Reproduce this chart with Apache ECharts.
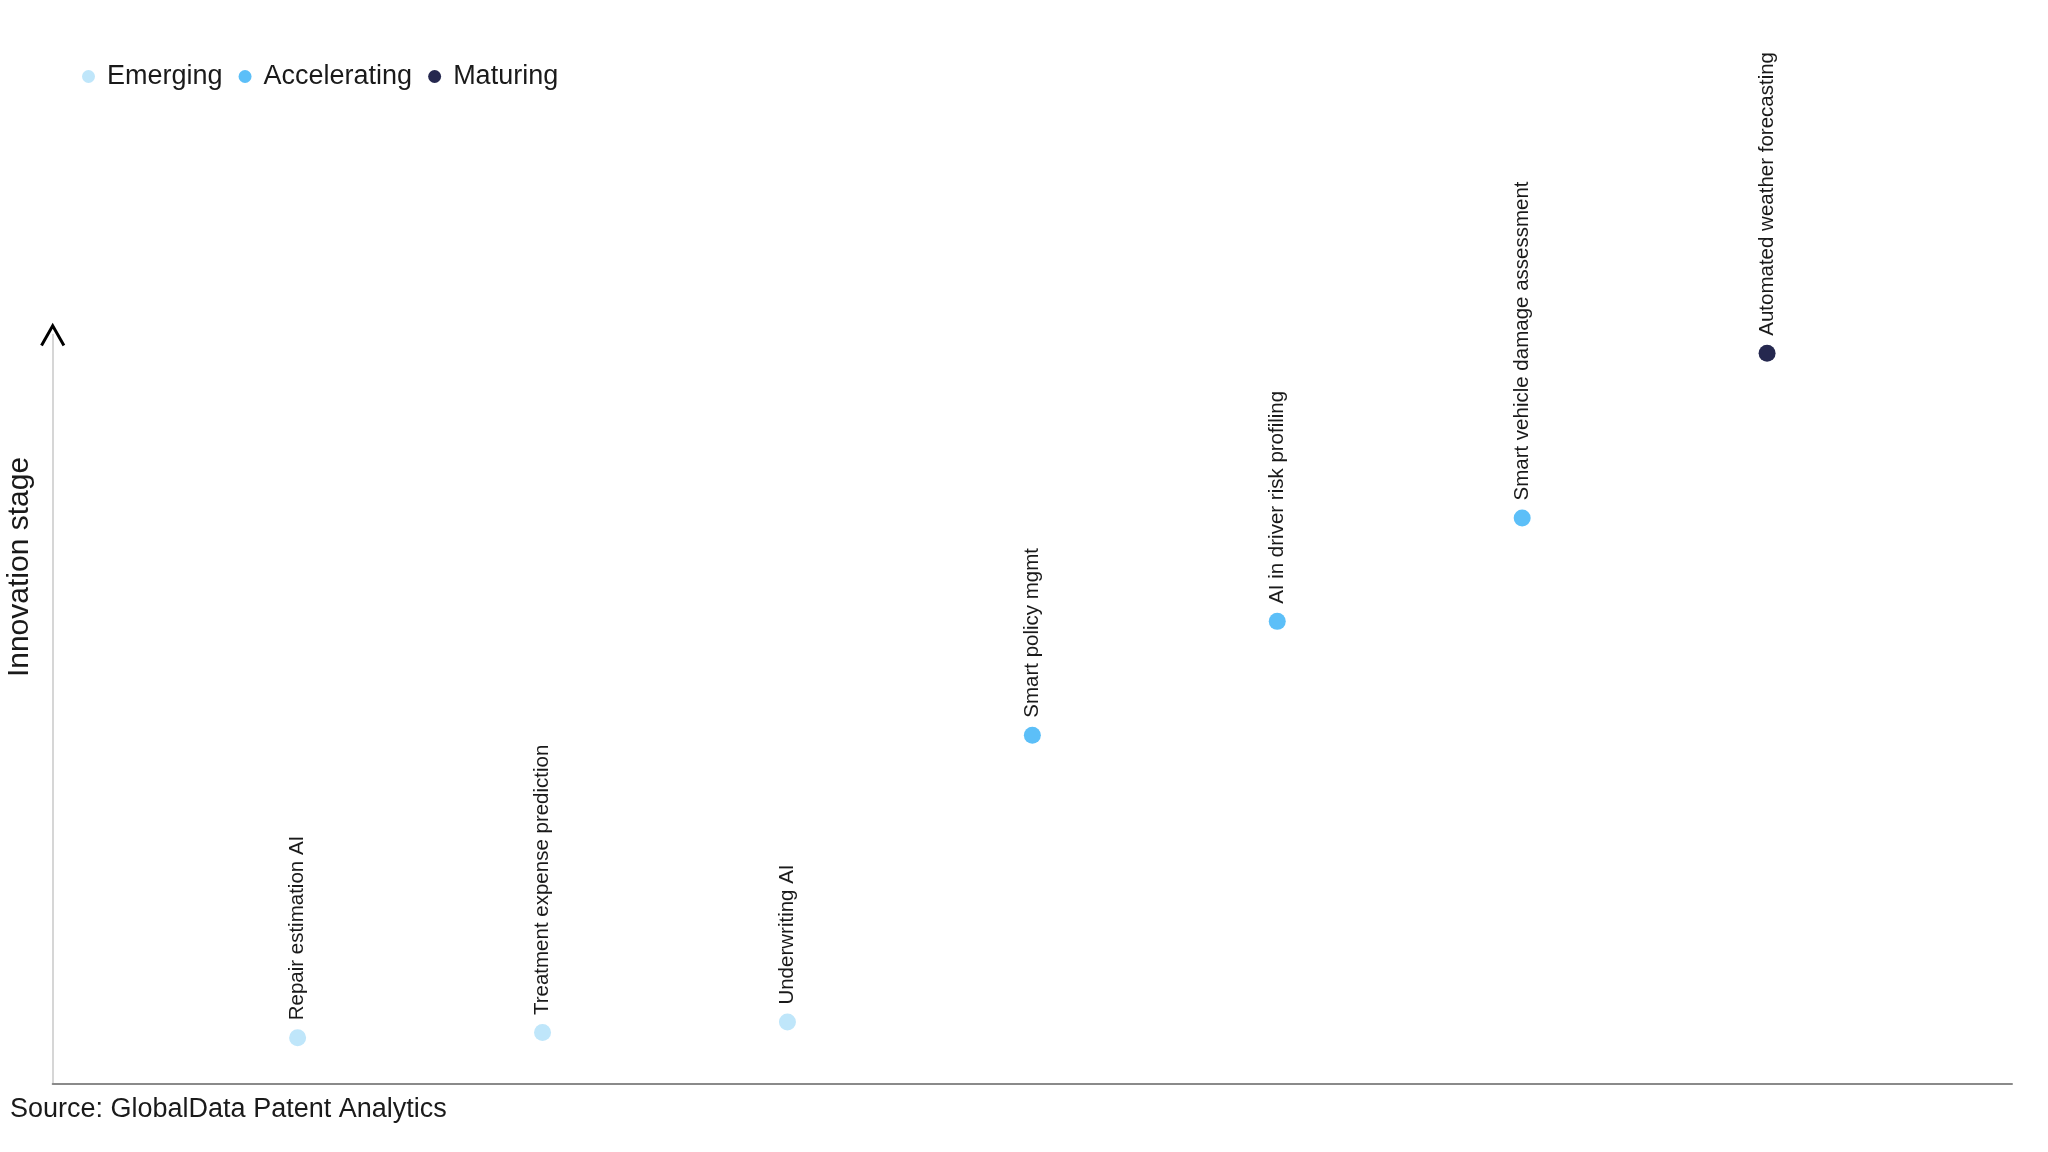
<!DOCTYPE html>
<html>
<head>
<meta charset="utf-8">
<script src="https://cdn.jsdelivr.net/npm/echarts@6/dist/echarts.min.js"></script>
<style>
html,body{margin:0;padding:0;background:#fff;}
#chart{width:2048px;height:1152px;}
</style>
</head>
<body>
<div id="chart"></div>
<script>
const technologies = [
  'Repair estimation AI',
  'Treatment expense prediction',
  'Underwriting AI',
  'Smart policy mgmt',
  'AI in driver risk profiling',
  'Smart vehicle damage assessment',
  'Automated weather forecasting'
];
const innovationStage = [6.1, 6.8, 8.2, 46.5, 61.7, 75.5, 97.5];
const maturity = ['Emerging', 'Emerging', 'Emerging', 'Accelerating', 'Accelerating', 'Accelerating', 'Maturing'];
const stageNames = ['Emerging', 'Accelerating', 'Maturing'];
const stageColors = ['#bfe6fa', '#5cbff8', '#25284f'];

const FONT = 'Arial, "Liberation Sans", sans-serif';
const TEXT = '#1a1a1a';

const series = stageNames.map((s, si) => ({
  name: s,
  type: 'scatter',
  symbol: 'circle',
  symbolSize: 17,
  itemStyle: { color: stageColors[si], opacity: 1 },
  label: {
    show: true,
    position: 'top',
    rotate: 90,
    align: 'left',
    verticalAlign: 'middle',
    distance: 9,
    fontFamily: FONT,
    fontSize: 20.5,
    color: TEXT,
    formatter: p => p.data[2]
  },
  emphasis: { disabled: true },
  data: technologies
    .map((t, i) => [i + 1, innovationStage[i], t, maturity[i]])
    .filter(d => d[3] === s)
}));

const chart = echarts.init(document.getElementById('chart'));
chart.setOption({
  backgroundColor: '#fff',
  animation: false,
  title: {
    text: 'Source: GlobalData Patent Analytics',
    left: 10,
    top: 1096,
    padding: 0,
    textStyle: { fontFamily: FONT, fontSize: 27, fontWeight: 'normal', color: TEXT }
  },
  legend: {
    left: 82,
    top: 63,
    itemWidth: 13,
    itemHeight: 13,
    itemGap: 16,
    icon: 'circle',
    padding: 0,
    data: stageNames,
    textStyle: { fontFamily: FONT, fontSize: 27, color: TEXT, padding: [0, 0, 0, 7] }
  },
  grid: { left: 52.7, right: 36, top: 334.5, bottom: 68.5, containLabel: false, outerBoundsMode: 'none' },
  xAxis: {
    type: 'value',
    min: 0,
    max: 8,
    interval: 1,
    axisLine: { show: true, lineStyle: { color: '#8a8a8a', width: 2 } },
    axisTick: { show: false },
    axisLabel: { show: false },
    splitLine: { show: false }
  },
  yAxis: [
    {
      type: 'value',
      min: 0,
      max: 100,
      position: 'left',
      name: 'Innovation stage',
      nameLocation: 'middle',
      nameGap: 18,
      nameRotate: 90,
      nameTextStyle: { fontFamily: FONT, fontSize: 30, color: TEXT, padding: [0, 0, 0, 284] },
      axisLine: { show: true, lineStyle: { color: '#c8c8c8', width: 1.5 } },
      axisTick: { show: false },
      axisLabel: { show: false },
      splitLine: { show: false }
    },
    {
      type: 'value',
      min: 0,
      max: 100,
      position: 'left',
      offset: 0,
      axisLine: {
        show: true,
        symbol: ['none', 'path://M0,22 L12.5,0 L25,22 L22.4,23.5 L12.5,6 L2.6,23.5 Z'],
        symbolSize: [25, 24],
        symbolOffset: [0, 0],
        lineStyle: { color: '#000', width: 0 }
      },
      axisTick: { show: false },
      axisLabel: { show: false },
      splitLine: { show: false }
    }
  ],
  series: series
});
</script>
</body>
</html>
